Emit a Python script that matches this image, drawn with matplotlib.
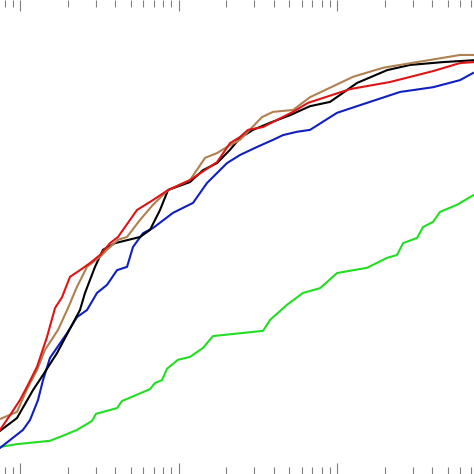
import matplotlib
matplotlib.use("Agg")
import matplotlib.pyplot as plt
from matplotlib.ticker import LogLocator, NullFormatter

# Curves (x on a log axis, y as a fraction)
green_x = [0.748, 0.957, 1.546, 1.841, 2.289, 2.847, 3.017, 4.093, 4.401, 6.610,
           7.107, 7.869, 8.463, 9.927, 11.82, 14.27, 16.51, 34.14, 37.78, 48.36,
           61.03, 78.10, 86.48, 100, 154.6, 206.8, 239.0, 260.9, 319.7, 348.8,
           403.4, 446.7, 571.7, 731]
green_y = [0.057, 0.063, 0.070, 0.080, 0.093, 0.112, 0.127, 0.139, 0.154, 0.179,
           0.192, 0.198, 0.222, 0.241, 0.247, 0.266, 0.291, 0.302, 0.325, 0.357,
           0.382, 0.392, 0.405, 0.424, 0.435, 0.456, 0.462, 0.487, 0.498, 0.521,
           0.532, 0.553, 0.568, 0.589]

blue_x = [0.748, 1.044, 1.157, 1.299, 1.397, 1.546, 1.979, 2.289, 2.647, 3.061,
          3.539, 4.093, 4.733, 5.164, 5.970, 6.904, 9.233, 12.35, 15.13, 17.50,
          20.23, 24.43, 31.28, 39.47, 45.63, 55.94, 67.55, 100, 154.6, 249.7,
          403.4, 597.2, 721.1]
blue_y = [0.055, 0.093, 0.114, 0.156, 0.198, 0.245, 0.297, 0.331, 0.346, 0.382,
          0.399, 0.430, 0.437, 0.479, 0.508, 0.519, 0.551, 0.572, 0.614, 0.635,
          0.656, 0.673, 0.690, 0.705, 0.715, 0.722, 0.726, 0.762, 0.783, 0.806,
          0.816, 0.831, 0.846]

black_x = [0.748, 0.957, 1.208, 1.397, 1.712, 2.390, 2.571, 2.973, 3.339, 3.975,
           5.716, 6.610, 7.644, 8.585, 11.82, 14.27, 17.50, 21.13, 24.43, 29.51,
           37.78, 50.52, 67.55, 90.33, 133.7, 206.8, 288.8, 466.6, 731]
black_y = [0.091, 0.118, 0.177, 0.209, 0.255, 0.346, 0.382, 0.437, 0.473, 0.487,
           0.500, 0.515, 0.557, 0.599, 0.616, 0.641, 0.656, 0.684, 0.709, 0.726,
           0.741, 0.757, 0.776, 0.785, 0.825, 0.852, 0.863, 0.869, 0.873]

brown_x = [0.748, 0.957, 1.107, 1.280, 1.438, 1.737, 2.008, 2.289, 2.647, 3.197,
           3.539, 4.152, 4.733, 5.716, 6.904, 8.585, 11.82, 14.70, 17.50, 20.23,
           24.43, 33.63, 39.47, 52.77, 67.55, 126.2, 195.1, 319.7, 597.2, 731]
brown_y = [0.116, 0.131, 0.179, 0.219, 0.262, 0.304, 0.350, 0.395, 0.437, 0.458,
           0.473, 0.494, 0.500, 0.536, 0.568, 0.599, 0.620, 0.667, 0.677, 0.690,
           0.705, 0.753, 0.764, 0.768, 0.795, 0.838, 0.857, 0.869, 0.884, 0.884]

red_x = [0.748, 0.865, 1.0, 1.107, 1.280, 1.480, 1.663, 1.841, 2.068, 2.390,
         2.765, 3.197, 3.697, 4.152, 5.471, 6.904, 8.585, 11.82, 14.07, 17.50,
         21.13, 24.43, 27.45, 34.14, 41.83, 52.77, 65.62, 120.8, 216.0, 403.4,
         597.2, 731]
red_y = [0.093, 0.124, 0.156, 0.184, 0.226, 0.289, 0.350, 0.373, 0.416, 0.430,
         0.445, 0.462, 0.487, 0.500, 0.557, 0.578, 0.599, 0.620, 0.637, 0.658,
         0.698, 0.711, 0.726, 0.732, 0.747, 0.764, 0.783, 0.812, 0.827, 0.850,
         0.867, 0.869]


def main():
    fig = plt.figure(figsize=(4.74, 4.74), dpi=100)
    ax = fig.add_axes([0, 0, 1, 1])

    ax.plot(green_x, green_y, color="#22dd22", lw=1.5)
    ax.plot(blue_x, blue_y, color="#1020c0", lw=1.5)
    ax.plot(black_x, black_y, color="black", lw=1.5)
    ax.plot(brown_x, brown_y, color="#b08050", lw=1.5)
    ax.plot(red_x, red_y, color="#dd1515", lw=1.5)

    ax.set_xscale("log")
    ax.set_xlim(0.748, 731)
    ax.set_ylim(0, 1)

    ax.xaxis.set_major_locator(LogLocator(base=10))
    ax.xaxis.set_minor_locator(LogLocator(base=10, subs=range(2, 10)))
    ax.xaxis.set_major_formatter(NullFormatter())
    ax.xaxis.set_minor_formatter(NullFormatter())
    ax.set_yticks([])

    ax.tick_params(axis="x", which="both", direction="in", top=True, bottom=True,
                   color="0.5", width=0.8)
    ax.tick_params(axis="x", which="major", length=8)
    ax.tick_params(axis="x", which="minor", length=5)

    for s in ax.spines.values():
        s.set_visible(False)

    fig.savefig("out.png", dpi=100)


if __name__ == "__main__":
    main()
